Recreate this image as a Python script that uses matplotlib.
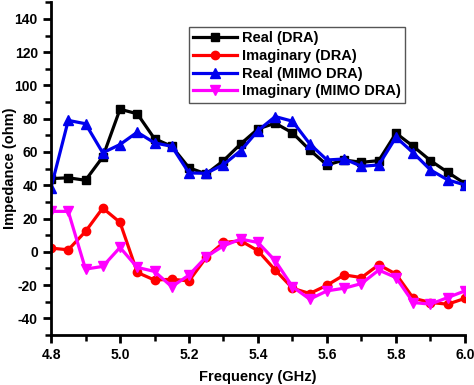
import numpy as np
import matplotlib.pyplot as plt
from matplotlib.ticker import MultipleLocator

plt.rcParams['font.family'] = ['Liberation Sans', 'DejaVu Sans']
plt.rcParams['font.weight'] = 'bold'
plt.rcParams['axes.unicode_minus'] = False

# frequency points (GHz)
freq = np.round(np.arange(4.80, 6.001, 0.05), 2)

real_dra = [44, 44.5, 43, 57, 85.7, 83, 68, 63.4, 50.5, 46.8, 54.8, 64.9, 73.9,
            77.3, 71.5, 61.2, 52.2, 55.2, 53.8, 54.8, 71.3, 63.4, 54.8, 47.8, 41]
imag_dra = [2.2, 1.2, 12.2, 26.3, 17.7, -12.4, -17, -16.5, -17.5, -3.4, 5.6, 6.6, 0.6,
            -11, -21.9, -25.1, -20.1, -13.9, -15.5, -7.8, -13.4, -27.9, -30.5, -31.5, -28]
real_mimo = [38.5, 79, 77, 59.5, 64.5, 71.9, 65.5, 63.4, 47.4, 47.2, 52.4, 60.8, 72.9,
             81.3, 78.5, 64.9, 55.2, 55.8, 51.4, 52.2, 68.9, 59.5, 49.2, 43.2, 40.2]
imag_mimo = [24.3, 24.3, -10.4, -8.8, 2.6, -9.4, -11.8, -21, -14, -3, 3.6, 7.6, 5.6,
             -5.4, -21, -28.5, -23.5, -21.9, -19.1, -11, -15.5, -30.5, -31.5, -27.5, -23.5]

fig = plt.figure(figsize=(4.74, 3.85), dpi=100)
ax = fig.add_axes([0.1076, 0.130, 0.8734, 0.864])

lw = 2.3
ax.plot(freq, real_dra, color='black', marker='s', ms=5.5, lw=lw, label='Real (DRA)')
ax.plot(freq, imag_dra, color='red', marker='o', ms=6, lw=lw, label='Imaginary (DRA)')
ax.plot(freq, real_mimo, color='#0000ee', marker='^', ms=6.5, lw=lw, label='Real (MIMO DRA)')
ax.plot(freq, imag_mimo, color='magenta', marker='v', ms=6.5, lw=lw, label='Imaginary (MIMO DRA)')

ax.set_xlim(4.8, 6.0)
ax.set_ylim(-50, 150)
ax.xaxis.set_major_locator(MultipleLocator(0.2))
ax.xaxis.set_minor_locator(MultipleLocator(0.1))
ax.yaxis.set_major_locator(MultipleLocator(20))
ax.yaxis.set_minor_locator(MultipleLocator(10))
ax.set_xticklabels([f'{v:.1f}' for v in ax.get_xticks()])

for s in ['top', 'right']:
    ax.spines[s].set_visible(False)
for s in ['left', 'bottom']:
    ax.spines[s].set_linewidth(2)
ax.tick_params(which='major', direction='out', length=6, width=2, labelsize=10)
ax.tick_params(which='minor', direction='out', length=4, width=1.8)

ax.set_xlabel('Frequency (GHz)', fontsize=10.5, fontweight='bold', labelpad=6)
ax.set_ylabel('Impedance (ohm)', fontsize=10.5, fontweight='bold', labelpad=-2)

leg = ax.legend(loc='upper left', bbox_to_anchor=(189 / 474, 1 - 27 / 385),
                bbox_transform=fig.transFigure, fontsize=10.5, handlelength=3,
                handletextpad=0.3, borderpad=0.3, labelspacing=0.25,
                fancybox=False, framealpha=1, borderaxespad=0)
leg.get_frame().set_edgecolor('#555555')
leg.get_frame().set_linewidth(1)

fig.savefig('out.png', dpi=100)
